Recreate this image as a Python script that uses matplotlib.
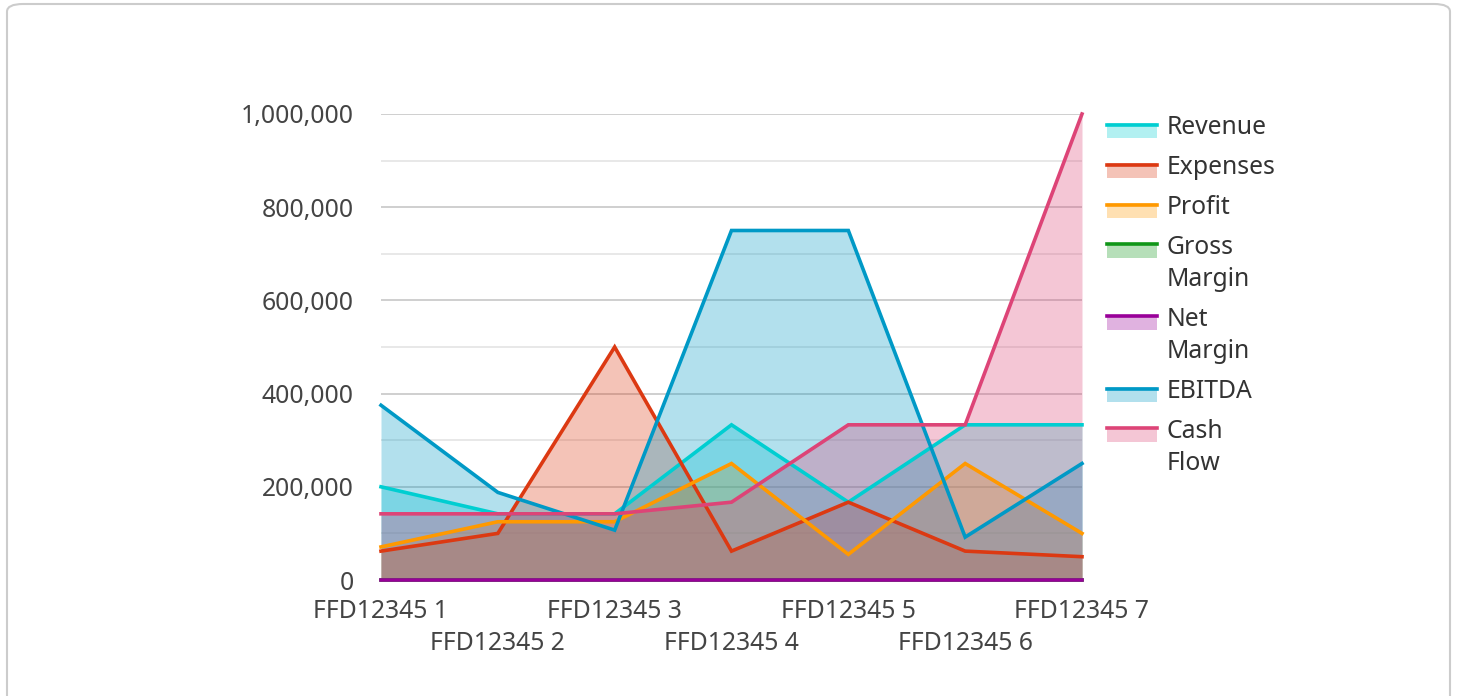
import matplotlib
matplotlib.use("Agg")
from matplotlib import pyplot as plt
from matplotlib.patches import FancyBboxPatch, Rectangle
from matplotlib.lines import Line2D
from matplotlib.ticker import FuncFormatter, MultipleLocator
from matplotlib.transforms import ScaledTranslation

plt.rcParams["font.family"] = ["Noto Sans", "DejaVu Sans"]

categories = ["FFD12345 1", "FFD12345 2", "FFD12345 3", "FFD12345 4",
              "FFD12345 5", "FFD12345 6", "FFD12345 7"]

revenue = [200000, 142000, 142000, 333000, 167000, 333000, 333000]
expenses = [62000, 100000, 500000, 62000, 167000, 62000, 50000]
profit = [71000, 125000, 125000, 250000, 55000, 250000, 100000]
gross_margin = [0, 0, 0, 0, 0, 0, 0]
net_margin = [0, 0, 0, 0, 0, 0, 0]
ebitda = [375000, 188000, 107000, 750000, 750000, 92000, 250000]
cash_flow = [142000, 142000, 142000, 167000, 333000, 333000, 1000000]

series_names = ["Revenue", "Expenses", "Profit", "Gross\nMargin",
                "Net\nMargin", "EBITDA", "Cash\nFlow"]
series_values = [revenue, expenses, profit, gross_margin, net_margin,
                 ebitda, cash_flow]
colors = ["#00CED1", "#DC3912", "#FF9900", "#109618", "#990099",
          "#0099C6", "#DD4477"]

W, H = 1458, 696
FS = 17.8
fig = plt.figure(figsize=(W / 100, H / 100), dpi=100)


def px(xp, yp):
    """pixel position from top-left -> figure fraction"""
    return xp / W, 1 - yp / H


# rounded frame around the chart (bottom edge runs off the image)
fig.patches.append(FancyBboxPatch(
    (7 / W, -10 / H), 1443 / W, 702 / H,
    boxstyle="round,pad=0,rounding_size=0.011",
    transform=fig.transFigure, facecolor="white",
    edgecolor="#cccccc", linewidth=1.5, zorder=-5))

ax = fig.add_axes([381 / W, 1 - 580 / H, 701 / W, 466 / H])
ax.set_facecolor("none")

x = list(range(len(categories)))
for vals, col in zip(series_values, colors):
    ax.fill_between(x, 0, vals, color=col, alpha=0.3, linewidth=0, zorder=2)
for vals, col in zip(series_values, colors):
    ax.plot(x, vals, color=col, linewidth=2.6, zorder=3, clip_on=False,
            solid_joinstyle="miter")

ax.set_xlim(0, len(categories) - 1)
ax.set_ylim(0, 1000000)
ax.yaxis.set_major_locator(MultipleLocator(200000))
ax.yaxis.set_minor_locator(MultipleLocator(100000))
ax.yaxis.set_major_formatter(FuncFormatter(lambda v, p: f"{int(v):,}"))
ax.grid(axis="y", which="major", color="#cccccc", linewidth=1.3, zorder=1)
ax.grid(axis="y", which="minor", color="#e6e6e6", linewidth=1.3, zorder=1)
ax.set_axisbelow(True)

ax.set_xticks(x)
ax.set_xticklabels(categories)

ax.tick_params(axis="both", which="both", length=0, labelsize=FS,
               labelcolor="#444444")
ax.tick_params(axis="y", pad=19.5)
ax.tick_params(axis="x", pad=14)

# stagger every second category label one row lower
drop = ScaledTranslation(0, -32 / 100, fig.dpi_scale_trans)
for i, t in enumerate(ax.get_xticklabels()):
    if i % 2 == 1:
        t.set_transform(t.get_transform() + drop)

for s in ["top", "right", "left"]:
    ax.spines[s].set_visible(False)
ax.spines["bottom"].set_color("#333333")
ax.spines["bottom"].set_linewidth(1.5)

# legend drawn by hand so two-line labels keep the swatch on the first line
y = 125
for name, col in zip(series_names, colors):
    x0, y0 = px(1107, y + 13)
    fig.patches.append(Rectangle((x0, y0), 50 / W, 15 / H,
                                 transform=fig.transFigure, facecolor=col,
                                 alpha=0.3, linewidth=0))
    lx0, ly = px(1107, y - 0.5)
    lx1, _ = px(1157, y)
    fig.lines.append(Line2D([lx0, lx1], [ly, ly], transform=fig.transFigure,
                            color=col, linewidth=2.6))
    for j, part in enumerate(name.split("\n")):
        tx, ty = px(1167, y + 9 + 32 * j)
        fig.text(tx, ty, part, fontsize=FS, color="#333333",
                 va="baseline", ha="left")
    y += 40 + 32 * name.count("\n")

fig.savefig("out.png", dpi=100)
